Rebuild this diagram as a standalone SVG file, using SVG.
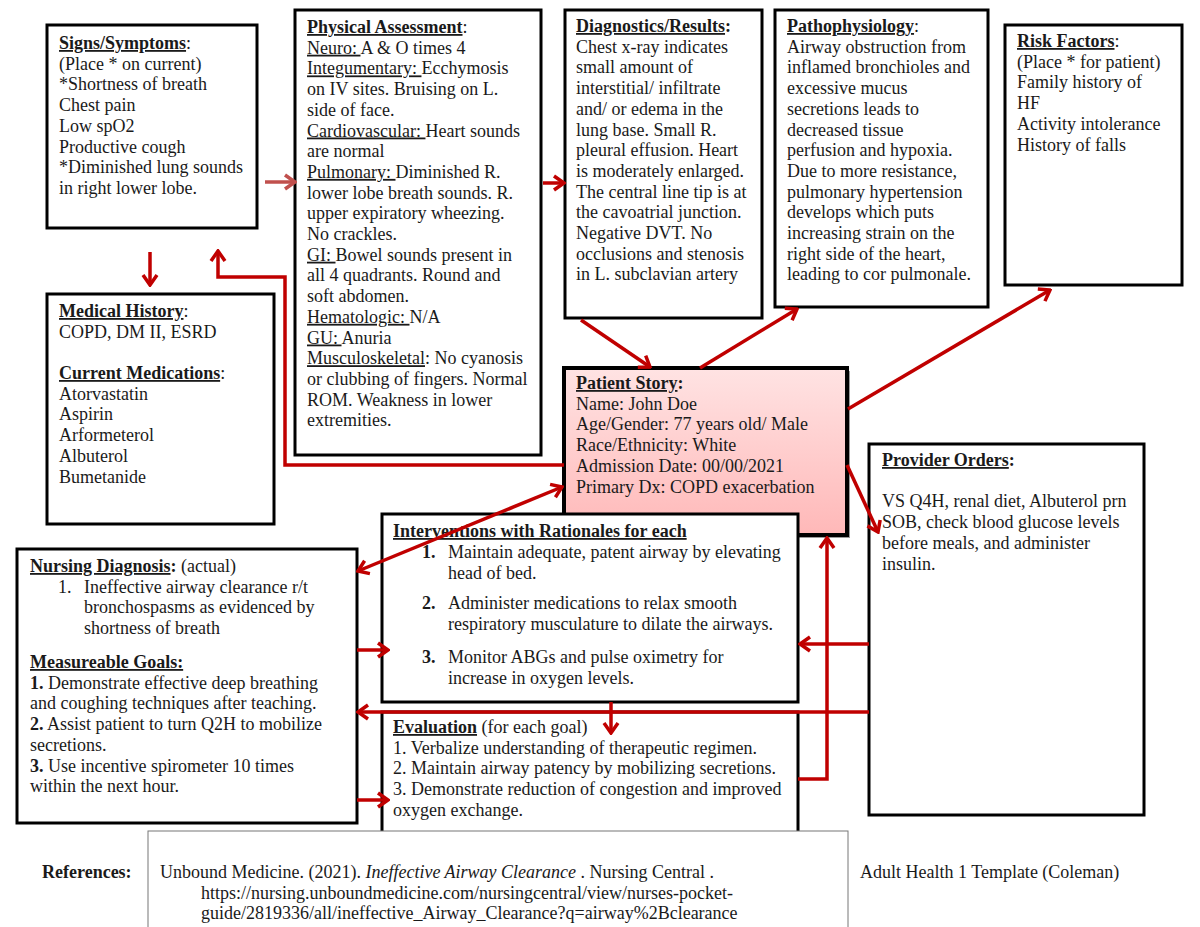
<svg xmlns="http://www.w3.org/2000/svg" width="1200" height="927" viewBox="0 0 1200 927">
<defs>
<style>
.box{fill:#fff;stroke:#000;stroke-width:3}
.t{font-family:"Liberation Serif","Times New Roman",serif;font-size:18px;fill:#1a1a1a}
.b{font-weight:bold}
.u{text-decoration:underline}
.i{font-style:italic}
.c{fill:none;stroke:#c00000;stroke-width:3.5}
.cl{fill:none;stroke:#c0504d;stroke-width:3.5}
</style>
<linearGradient id="pink" x1="0" y1="0" x2="0" y2="1">
<stop offset="0" stop-color="#ffe3e3"/>
<stop offset="1" stop-color="#ffb8b8"/>
</linearGradient>
<marker id="ah" viewBox="-12 -9 14 18" refX="0" refY="0" markerWidth="14" markerHeight="18" markerUnits="userSpaceOnUse" orient="auto-start-reverse">
<path d="M-10,-7 L0,0 L-10,7" fill="none" stroke="#c00000" stroke-width="3.5"/>
</marker>
<marker id="ahl" viewBox="-12 -9 14 18" refX="0" refY="0" markerWidth="14" markerHeight="18" markerUnits="userSpaceOnUse" orient="auto">
<path d="M-10,-7 L0,0 L-10,7" fill="none" stroke="#c0504d" stroke-width="3.5"/>
</marker>
</defs>
<rect width="1200" height="927" fill="#fff"/>

<g id="signs">
<rect class="box" x="47" y="25" width="210" height="203"/>
<text class="t"><tspan x="59" y="49"><tspan class="b u">Signs/Symptoms</tspan>:</tspan><tspan x="59" y="69.7">(Place * on current)</tspan><tspan x="59" y="90.4">*Shortness of breath</tspan><tspan x="59" y="111.1">Chest pain</tspan><tspan x="59" y="131.8">Low spO2</tspan><tspan x="59" y="152.5">Productive cough</tspan><tspan x="59" y="173.2">*Diminished lung sounds</tspan><tspan x="59" y="193.9">in right lower lobe.</tspan></text>
</g>

<g id="medical-history">
<rect class="box" x="47" y="294" width="227" height="230"/>
<text class="t"><tspan x="59" y="317"><tspan class="b u">Medical History</tspan>:</tspan><tspan x="59" y="337.7">COPD, DM II, ESRD</tspan><tspan x="59" y="379"><tspan class="b u">Current Medications</tspan>:</tspan><tspan x="59" y="399.7">Atorvastatin</tspan><tspan x="59" y="420.4">Aspirin</tspan><tspan x="59" y="441.1">Arformeterol</tspan><tspan x="59" y="461.8">Albuterol</tspan><tspan x="59" y="482.5">Bumetanide</tspan></text>
</g>

<g id="physical">
<rect class="box" x="295" y="10" width="246" height="445"/>
<text class="t"><tspan x="307" y="33"><tspan class="b u">Physical Assessment</tspan>:</tspan><tspan x="307" y="53.7"><tspan class="u">Neuro: </tspan>A &amp; O times 4</tspan><tspan x="307" y="74.4"><tspan class="u">Integumentary: </tspan>Ecchymosis</tspan><tspan x="307" y="95.1">on IV sites. Bruising on L.</tspan><tspan x="307" y="115.8">side of face.</tspan><tspan x="307" y="136.5"><tspan class="u">Cardiovascular: </tspan>Heart sounds</tspan><tspan x="307" y="157.2">are normal</tspan><tspan x="307" y="177.9"><tspan class="u">Pulmonary: </tspan>Diminished R.</tspan><tspan x="307" y="198.6">lower lobe breath sounds. R.</tspan><tspan x="307" y="219.3">upper expiratory wheezing.</tspan><tspan x="307" y="240">No crackles.</tspan><tspan x="307" y="260.7"><tspan class="u">GI: </tspan>Bowel sounds present in</tspan><tspan x="307" y="281.4">all 4 quadrants. Round and</tspan><tspan x="307" y="302.1">soft abdomen.</tspan><tspan x="307" y="322.8"><tspan class="u">Hematologic: </tspan>N/A</tspan><tspan x="307" y="343.5"><tspan class="u">GU: </tspan>Anuria</tspan><tspan x="307" y="364.2"><tspan class="u">Musculoskeletal</tspan>: No cyanosis</tspan><tspan x="307" y="384.9">or clubbing of fingers. Normal</tspan><tspan x="307" y="405.6">ROM. Weakness in lower</tspan><tspan x="307" y="426.3">extremities.</tspan></text>
</g>

<g id="diagnostics">
<rect class="box" x="565" y="10" width="197" height="308"/>
<text class="t"><tspan x="576" y="32"><tspan class="b u">Diagnostics/Results</tspan><tspan class="b">:</tspan></tspan><tspan x="576" y="52.7">Chest x-ray indicates</tspan><tspan x="576" y="73.4">small amount of</tspan><tspan x="576" y="94.1">interstitial/ infiltrate</tspan><tspan x="576" y="114.8">and/ or edema in the</tspan><tspan x="576" y="135.5">lung base. Small R.</tspan><tspan x="576" y="156.2">pleural effusion. Heart</tspan><tspan x="576" y="176.9">is moderately enlarged.</tspan><tspan x="576" y="197.6">The central line tip is at</tspan><tspan x="576" y="218.3">the cavoatrial junction.</tspan><tspan x="576" y="239">Negative DVT. No</tspan><tspan x="576" y="259.7">occlusions and stenosis</tspan><tspan x="576" y="280.4">in L. subclavian artery</tspan></text>
</g>

<g id="pathophysiology">
<rect class="box" x="775" y="10" width="213" height="297"/>
<text class="t"><tspan x="787" y="32"><tspan class="b u">Pathophysiology</tspan>:</tspan><tspan x="787" y="52.7">Airway obstruction from</tspan><tspan x="787" y="73.4">inflamed bronchioles and</tspan><tspan x="787" y="94.1">excessive mucus</tspan><tspan x="787" y="114.8">secretions leads to</tspan><tspan x="787" y="135.5">decreased tissue</tspan><tspan x="787" y="156.2">perfusion and hypoxia.</tspan><tspan x="787" y="176.9">Due to more resistance,</tspan><tspan x="787" y="197.6">pulmonary hypertension</tspan><tspan x="787" y="218.3">develops which puts</tspan><tspan x="787" y="239">increasing strain on the</tspan><tspan x="787" y="259.7">right side of the heart,</tspan><tspan x="787" y="280.4">leading to cor pulmonale.</tspan></text>
</g>

<g id="risk-factors">
<rect class="box" x="1005" y="25" width="177" height="260"/>
<text class="t"><tspan x="1017" y="47"><tspan class="b u">Risk Factors</tspan>:</tspan><tspan x="1017" y="67.7">(Place * for patient)</tspan><tspan x="1017" y="88.4">Family history of</tspan><tspan x="1017" y="109.1">HF</tspan><tspan x="1017" y="129.8">Activity intolerance</tspan><tspan x="1017" y="150.5">History of falls</tspan></text>
</g>

<g id="patient-story">
<rect x="567" y="371" width="283" height="167" fill="#9a9a9a"/>
<rect x="564" y="368" width="283" height="167" fill="url(#pink)" stroke="#000" stroke-width="4"/>
<text class="t"><tspan x="576" y="389"><tspan class="b u">Patient Story</tspan><tspan class="b">:</tspan></tspan><tspan x="576" y="409.7">Name: John Doe</tspan><tspan x="576" y="430.4">Age/Gender: 77 years old/ Male</tspan><tspan x="576" y="451.1">Race/Ethnicity: White</tspan><tspan x="576" y="471.8">Admission Date: 00/00/2021</tspan><tspan x="576" y="492.5">Primary Dx: COPD exacerbation</tspan></text>
</g>

<g id="provider-orders">
<rect class="box" x="869" y="444" width="275" height="371"/>
<text class="t"><tspan x="882" y="466"><tspan class="b u">Provider Orders</tspan><tspan class="b">:</tspan></tspan><tspan x="882" y="507.4">VS Q4H, renal diet, Albuterol prn</tspan><tspan x="882" y="528.1">SOB, check blood glucose levels</tspan><tspan x="882" y="548.8">before meals, and administer</tspan><tspan x="882" y="569.5">insulin.</tspan></text>
</g>

<g id="nursing-diagnosis">
<rect class="box" x="17" y="549" width="340" height="274"/>
<text class="t"><tspan x="30" y="572"><tspan class="b u">Nursing Diagnosis</tspan><tspan class="b">:</tspan> (actual)</tspan><tspan x="58" y="592.7">1.</tspan><tspan x="84" y="592.7">Ineffective airway clearance r/t</tspan><tspan x="84" y="613.4">bronchospasms as evidenced by</tspan><tspan x="84" y="634.1">shortness of breath</tspan><tspan x="30" y="668" class="b u">Measureable Goals:</tspan><tspan x="30" y="688.7"><tspan class="b">1.</tspan> Demonstrate effective deep breathing</tspan><tspan x="30" y="709.4">and coughing techniques after teaching.</tspan><tspan x="30" y="730.1"><tspan class="b">2.</tspan> Assist patient to turn Q2H to mobilize</tspan><tspan x="30" y="750.8">secretions.</tspan><tspan x="30" y="771.5"><tspan class="b">3.</tspan> Use incentive spirometer 10 times</tspan><tspan x="30" y="792.2">within the next hour.</tspan></text>
</g>

<g id="interventions">
<rect class="box" x="382" y="514" width="416" height="188"/>
<text class="t"><tspan x="393" y="537" class="b u">Interventions with Rationales for each</tspan><tspan x="422" y="558" class="b">1.</tspan><tspan x="448" y="558">Maintain adequate, patent airway by elevating</tspan><tspan x="448" y="578.7">head of bed.</tspan><tspan x="422" y="609" class="b">2.</tspan><tspan x="448" y="609">Administer medications to relax smooth</tspan><tspan x="448" y="629.7">respiratory musculature to dilate the airways.</tspan><tspan x="422" y="663" class="b">3.</tspan><tspan x="448" y="663">Monitor ABGs and pulse oximetry for</tspan><tspan x="448" y="683.7">increase in oxygen levels.</tspan></text>
</g>

<g id="evaluation">
<rect class="box" x="382" y="712" width="416" height="124"/>
<text class="t"><tspan x="393" y="733"><tspan class="b u">Evaluation</tspan> (for each goal)</tspan><tspan x="393" y="753.7">1. Verbalize understanding of therapeutic regimen.</tspan><tspan x="393" y="774.4">2. Maintain airway patency by mobilizing secretions.</tspan><tspan x="393" y="795.1">3. Demonstrate reduction of congestion and improved</tspan><tspan x="393" y="815.8">oxygen exchange.</tspan></text>
</g>

<g id="references">
<rect x="148" y="831" width="700" height="100" fill="#fff" stroke="#777" stroke-width="1"/>
<text class="t"><tspan x="42" y="878" class="b">References:</tspan><tspan x="160" y="878">Unbound Medicine. (2021). <tspan class="i">Ineffective Airway Clearance</tspan> . Nursing Central .</tspan><tspan x="201" y="898.7">https://nursing.unboundmedicine.com/nursingcentral/view/nurses-pocket-</tspan><tspan x="201" y="919.4">guide/2819336/all/ineffective_Airway_Clearance?q=airway%2Bclearance</tspan></text>
<text class="t" x="860" y="878">Adult Health 1 Template (Coleman)</text>
</g>

<g id="connectors">
<line class="cl" x1="265" y1="182" x2="295" y2="182" marker-end="url(#ahl)"/>
<line class="c" x1="543" y1="183" x2="564" y2="183" marker-end="url(#ah)"/>
<line class="c" x1="150" y1="252" x2="150" y2="285" marker-end="url(#ah)"/>
<polyline class="c" points="564,465 285,465 285,277 218,277 218,251" marker-end="url(#ah)"/>
<line class="c" x1="581" y1="320" x2="650" y2="367" marker-end="url(#ah)"/>
<line class="c" x1="700" y1="368" x2="797" y2="309" marker-end="url(#ah)"/>
<line class="c" x1="848" y1="409" x2="1050" y2="290" marker-end="url(#ah)"/>
<line class="c" x1="847" y1="465" x2="878" y2="532" marker-end="url(#ah)"/>
<line class="c" x1="358" y1="571" x2="562" y2="487" marker-start="url(#ah)" marker-end="url(#ah)"/>
<line class="c" x1="357" y1="650" x2="388" y2="650" marker-end="url(#ah)"/>
<line class="c" x1="357" y1="800" x2="388" y2="800" marker-end="url(#ah)"/>
<line class="c" x1="869" y1="644" x2="800" y2="644" marker-end="url(#ah)"/>
<line class="c" x1="869" y1="712" x2="358" y2="712" marker-end="url(#ah)"/>
<line class="c" x1="611" y1="702" x2="611" y2="733" marker-end="url(#ah)"/>
<polyline class="c" points="798,779 827,779 827,538" marker-end="url(#ah)"/>
</g>
</svg>
